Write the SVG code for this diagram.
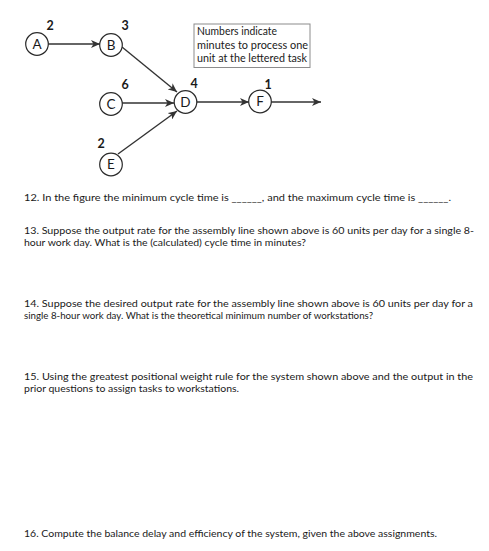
<svg xmlns="http://www.w3.org/2000/svg" width="489" height="551" viewBox="0 0 489 551">
<style>
.bg{fill:#ffffff}
.node circle{fill:#ffffff;stroke:#2a2a2a;stroke-width:1.2}
.lt{font-family:Lato,"Liberation Sans",sans-serif;font-size:13.5px;fill:#1a1a1a;text-anchor:middle}
.num{font-family:Lato,"Liberation Sans",sans-serif;font-size:12.5px;font-weight:bold;fill:#1a1a1a;text-anchor:middle}
.conn line{stroke:#333333;stroke-width:1.4;fill:none}
.note rect{fill:#ffffff;stroke:#8c8c8c;stroke-width:1}
.nt{font-family:Lato,"Liberation Sans",sans-serif;font-size:10.5px;fill:#1a1a1a}
.q{font-family:Lato,"Liberation Sans",sans-serif;font-size:10px;fill:#1a1a1a}
</style>
<defs>
<marker id="ah" markerUnits="userSpaceOnUse" markerWidth="10" markerHeight="8" refX="9" refY="4" orient="auto">
<path d="M0,0 L9,4 L0,8 L2.5,4 z" fill="#333333"/>
</marker>
</defs>
<rect class="bg" x="0" y="0" width="489" height="551"/>
<g id="connectors" class="conn">
<line x1="48" y1="44" x2="100" y2="44" marker-end="url(#ah)"/>
<line x1="122" y1="47" x2="177" y2="92" marker-end="url(#ah)"/>
<line x1="122" y1="103" x2="174" y2="103" marker-end="url(#ah)"/>
<line x1="118" y1="154" x2="177" y2="111" marker-end="url(#ah)"/>
<line x1="197" y1="102" x2="249" y2="102" marker-end="url(#ah)"/>
<line x1="271" y1="102" x2="321" y2="102" marker-end="url(#ah)"/>
</g>
<g id="node-A" class="node"><circle cx="37" cy="44" r="11.3"/><text class="lt" x="37" y="48.8">A</text><text class="num" x="50" y="30">2</text></g>
<g id="node-B" class="node"><circle cx="111" cy="45" r="11.3"/><text class="lt" x="111" y="49.8">B</text><text class="num" x="125" y="30">3</text></g>
<g id="node-C" class="node"><circle cx="111" cy="104" r="11.3"/><text class="lt" x="111" y="108.8">C</text><text class="num" x="125" y="89">6</text></g>
<g id="node-D" class="node"><circle cx="185.5" cy="102" r="11.3"/><text class="lt" x="185.5" y="106.8">D</text><text class="num" x="194" y="88">4</text></g>
<g id="node-E" class="node"><circle cx="111" cy="164.5" r="11.3"/><text class="lt" x="111" y="169.3">E</text><text class="num" x="101" y="148">2</text></g>
<g id="node-F" class="node"><circle cx="260" cy="101.5" r="11.3"/><text class="lt" x="260" y="106.3">F</text><text class="num" x="268" y="89">1</text></g>
<g id="note" class="note">
<rect x="194" y="24" width="116" height="43.5"/>
<text class="nt" x="197" y="35" textLength="80" lengthAdjust="spacingAndGlyphs">Numbers indicate</text>
<text class="nt" x="197" y="48.5" textLength="111" lengthAdjust="spacingAndGlyphs">minutes to process one</text>
<text class="nt" x="197" y="62" textLength="110" lengthAdjust="spacingAndGlyphs">unit at the lettered task</text>
</g>
<g id="questions">
<text class="q" x="24" y="201" textLength="427" lengthAdjust="spacingAndGlyphs">12. In the figure the minimum cycle time is ______, and the maximum cycle time is ______.</text>
<text class="q" x="24" y="233.5" textLength="450" lengthAdjust="spacingAndGlyphs">13. Suppose the output rate for the assembly line shown above is 60 units per day for a single 8-</text>
<text class="q" x="24" y="245.5" textLength="282" lengthAdjust="spacingAndGlyphs">hour work day. What is the (calculated) cycle time in minutes?</text>
<text class="q" x="24" y="307" textLength="449" lengthAdjust="spacingAndGlyphs">14. Suppose the desired output rate for the assembly line shown above is 60 units per day for a</text>
<text class="q" x="24" y="319" textLength="349" lengthAdjust="spacingAndGlyphs">single 8-hour work day. What is the theoretical minimum number of workstations?</text>
<text class="q" x="24" y="380" textLength="449" lengthAdjust="spacingAndGlyphs">15. Using the greatest positional weight rule for the system shown above and the output in the</text>
<text class="q" x="24" y="392" textLength="215" lengthAdjust="spacingAndGlyphs">prior questions to assign tasks to workstations.</text>
<text class="q" x="24" y="536.5" textLength="413" lengthAdjust="spacingAndGlyphs">16. Compute the balance delay and efficiency of the system, given the above assignments.</text>
</g>
</svg>
